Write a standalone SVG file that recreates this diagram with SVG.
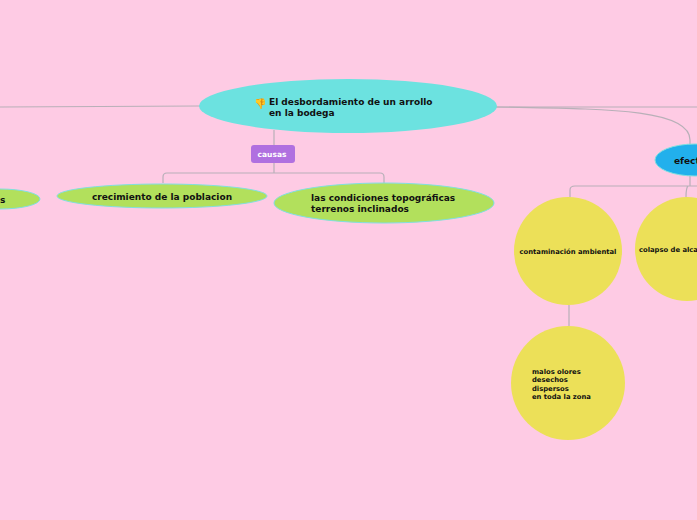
<svg xmlns="http://www.w3.org/2000/svg" width="697" height="520" viewBox="0 0 697 520">
<style>
text{font-family:"DejaVu Sans",sans-serif;font-weight:bold;fill:#111}
.c{fill:none;stroke:#b8b0b8;stroke-width:1.2}
.g{fill:#b2e05c;stroke:#7fe0e0;stroke-width:1}
.y{fill:#ece058}
</style>
<rect width="697" height="520" fill="#fecbe4"/>
<g id="connectors">
<path class="c" d="M0 107 L200 106"/>
<path class="c" d="M496 107 L697 107"/>
<path class="c" d="M496 107 C600 109 690 108 690 140 L690 148"/>
<path class="c" d="M274 130 L274 146"/>
<path class="c" d="M274 163 L274 173 M163 183 L163 177 Q163 173 167 173 L380 173 Q384 173 384 177 L384 184"/>
<path class="c" d="M690 176 L690 186 M570 197 L570 190 Q570 186 575 186 L697 186 M688 186 Q686 188 686 197"/>
<path class="c" d="M569 305 L569 326"/>
</g>
<g id="root"><ellipse cx="348" cy="106" rx="149" ry="27" fill="#6ce2e0"/>
<text x="254" y="107" font-size="10" style="fill:#e8b040">👎</text>
<text x="269" y="105" font-size="9">El desbordamiento de un arrollo</text>
<text x="269" y="116" font-size="9">en la bodega</text></g>
<g id="causas"><rect x="251" y="145" width="44" height="18" rx="3" fill="#b070e0"/>
<text x="272" y="157" font-size="7.5" text-anchor="middle" style="fill:#fff">causas</text></g>
<g id="left"><ellipse cx="0" cy="199" rx="40" ry="10" class="g"/><text x="0" y="203" font-size="9">s</text></g>
<g id="poblacion"><ellipse cx="162" cy="196" rx="105" ry="12" class="g"/>
<text x="162" y="200" font-size="9" text-anchor="middle">crecimiento de la poblacion</text></g>
<g id="topo"><ellipse cx="384" cy="203" rx="110" ry="20" class="g"/>
<text x="311" y="201" font-size="9">las condiciones topográficas</text>
<text x="311" y="212" font-size="9">terrenos inclinados</text></g>
<g id="efectos"><ellipse cx="695" cy="160" rx="40" ry="16" fill="#22b0ec" stroke="#7fe0e0"/>
<text x="674" y="164" font-size="9">efectos</text></g>
<g id="contaminacion"><circle cx="568" cy="251" r="54" class="y"/>
<text x="568" y="254" font-size="6.8" text-anchor="middle">contaminación ambiental</text></g>
<g id="colapso"><circle cx="687" cy="249" r="52" class="y"/>
<text x="639" y="252" font-size="6.8">colapso de alcantarillado</text></g>
<g id="olores"><circle cx="568" cy="383" r="57" class="y"/>
<text font-size="6.8"><tspan x="532" y="374">malos olores</tspan><tspan x="532" y="382">desechos</tspan><tspan x="532" y="391">dispersos</tspan><tspan x="532" y="399">en toda la zona</tspan></text></g>
</svg>
